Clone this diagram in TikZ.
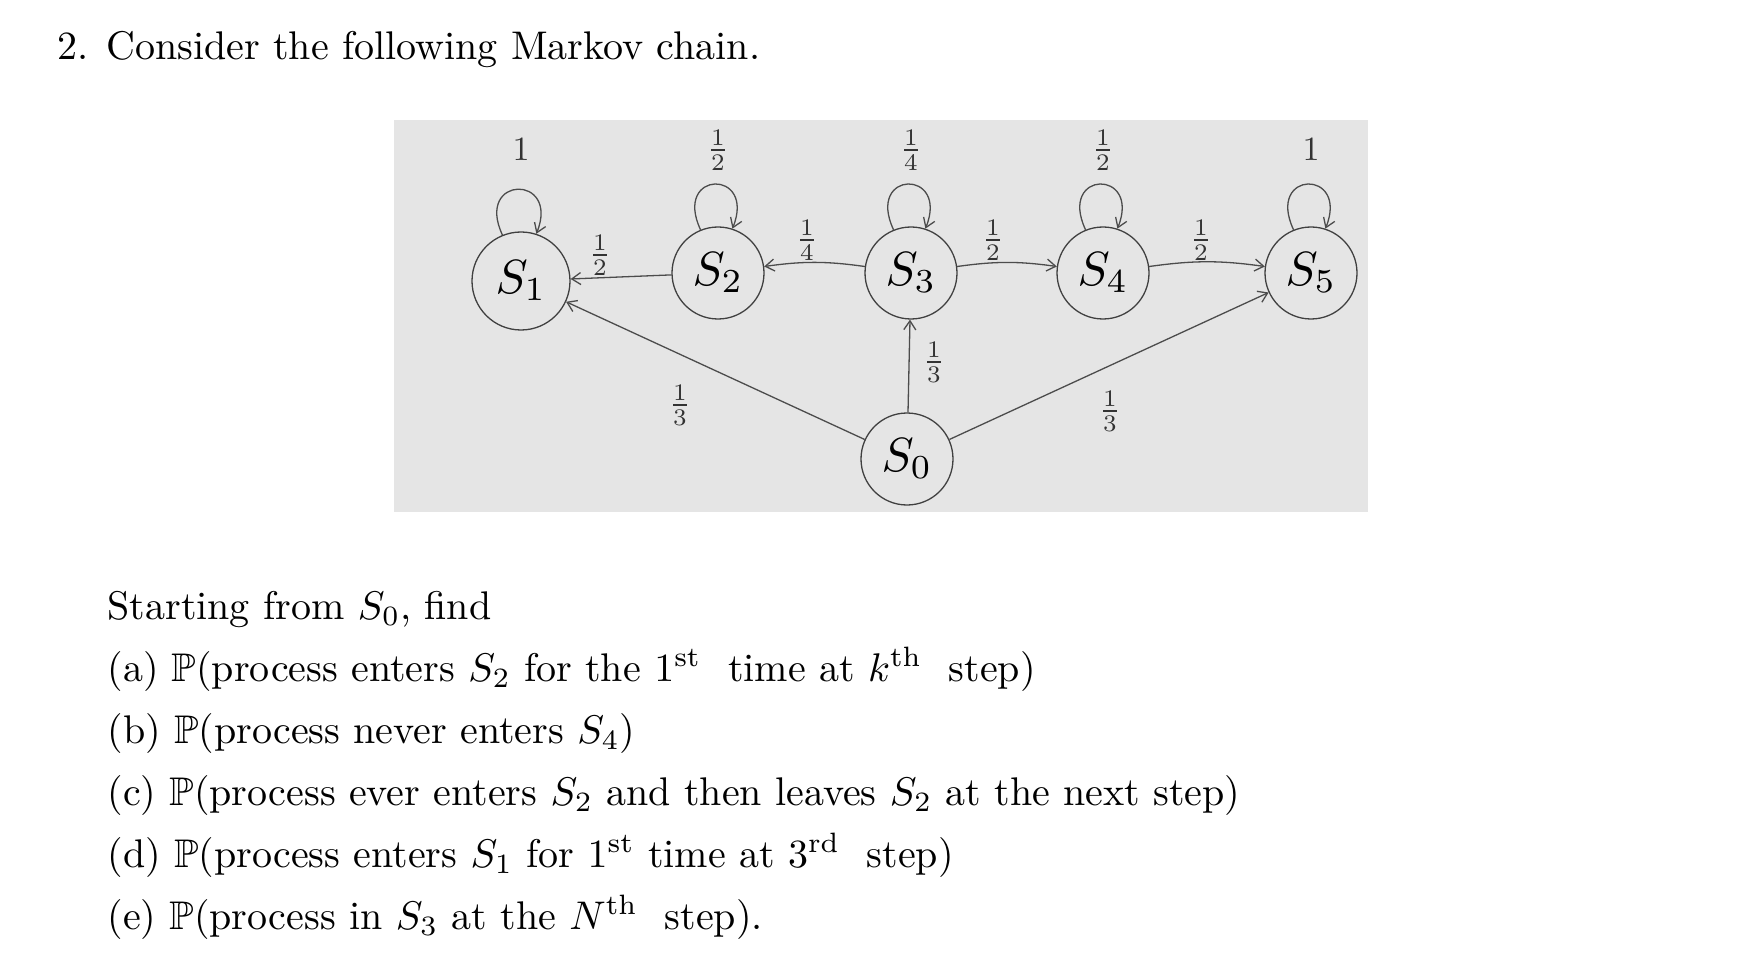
\documentclass[tikz,border=0pt]{standalone}
\usepackage{amssymb}
\usetikzlibrary{arrows.meta}
\newcommand\txs[1]{\scalebox{4.0}{#1}}
\newcommand\nds[1]{\scalebox{4.8}{#1}}
\newcommand\lbs[1]{\scalebox{3.4}{#1}}
\begin{document}
\begin{tikzpicture}[x=1pt,y=-1pt,
  st/.style={circle,draw=black!75,line width=1.3pt,minimum size=92pt,inner sep=0pt},
  ed/.style={draw=black!70,line width=1.3pt,-{Straight Barb[length=9pt,width=12pt]}},
  lb/.style={text=black!80,inner sep=1pt},
  tx/.style={anchor=base west}]
\useasboundingbox (0,0) rectangle (1753,965);
\fill[black!10] (394,120) rectangle (1368,512);
\node[tx] (title) at (54,60) {\txs{2. Consider the following Markov chain.}};
\node[st,minimum size=98pt] (s1) at (521,281) {\nds{$S_1$}};
\node[st] (s2) at (718,273) {\nds{$S_2$}};
\node[st] (s3) at (911,273) {\nds{$S_3$}};
\node[st] (s4) at (1103,273) {\nds{$S_4$}};
\node[st] (s5) at (1311,273) {\nds{$S_5$}};
\node[st] (s0) at (907,459) {\nds{$S_0$}};
\draw[ed] (s2) -- (s1);
\draw[ed] (s3) to[bend right=8] (s2);
\draw[ed] (s3) to[bend left=8] (s4);
\draw[ed] (s4) to[bend left=8] (s5);
\draw[ed] (s0) -- (s1);
\draw[ed] (s0) -- (s3);
\draw[ed] (s0) -- (s5);
\foreach \n in {s1,s2,s3,s4,s5}{\draw[ed] (\n.112) .. controls +(-28,-60) and +(24,-60) .. (\n.72);}
\node[lb] (l1) at (521,150) {\lbs{$1$}};
\node[lb] (l2) at (718,150) {\lbs{$\frac12$}};
\node[lb] (l3) at (911,150) {\lbs{$\frac14$}};
\node[lb] (l4) at (1103,150) {\lbs{$\frac12$}};
\node[lb] (l5) at (1311,150) {\lbs{$1$}};
\node[lb] (e12) at (600,255) {\lbs{$\frac12$}};
\node[lb] (e23) at (807,240) {\lbs{$\frac14$}};
\node[lb] (e34) at (993,240) {\lbs{$\frac12$}};
\node[lb] (e45) at (1201,240) {\lbs{$\frac12$}};
\node[lb] (e01) at (680,405) {\lbs{$\frac13$}};
\node[lb] (e03) at (934,362) {\lbs{$\frac13$}};
\node[lb] (e05) at (1110,411) {\lbs{$\frac13$}};
\node[tx] (t0) at (104,619) {\txs{Starting from $S_0$, find}};
\node[tx] (ta) at (104,681) {\txs{(a) $\mathbb{P}$(process enters $S_2$ for the $1^{\rm st}$ \ time at $k^{\rm th}$ \ step)}};
\node[tx] (tb) at (104,743) {\txs{(b) $\mathbb{P}$(process never enters $S_4$)}};
\node[tx] (tc) at (104,805) {\txs{(c) $\mathbb{P}$(process ever enters $S_2$ and then leaves $S_2$ at the next step)}};
\node[tx] (td) at (104,867) {\txs{(d) $\mathbb{P}$(process enters $S_1$ for $1^{\rm st}$ time at $3^{\rm rd}$ \ step)}};
\node[tx] (te) at (104,929) {\txs{(e) $\mathbb{P}$(process in $S_3$ at the $N^{\rm th}$ \ step).}};
\end{tikzpicture}
\end{document}
